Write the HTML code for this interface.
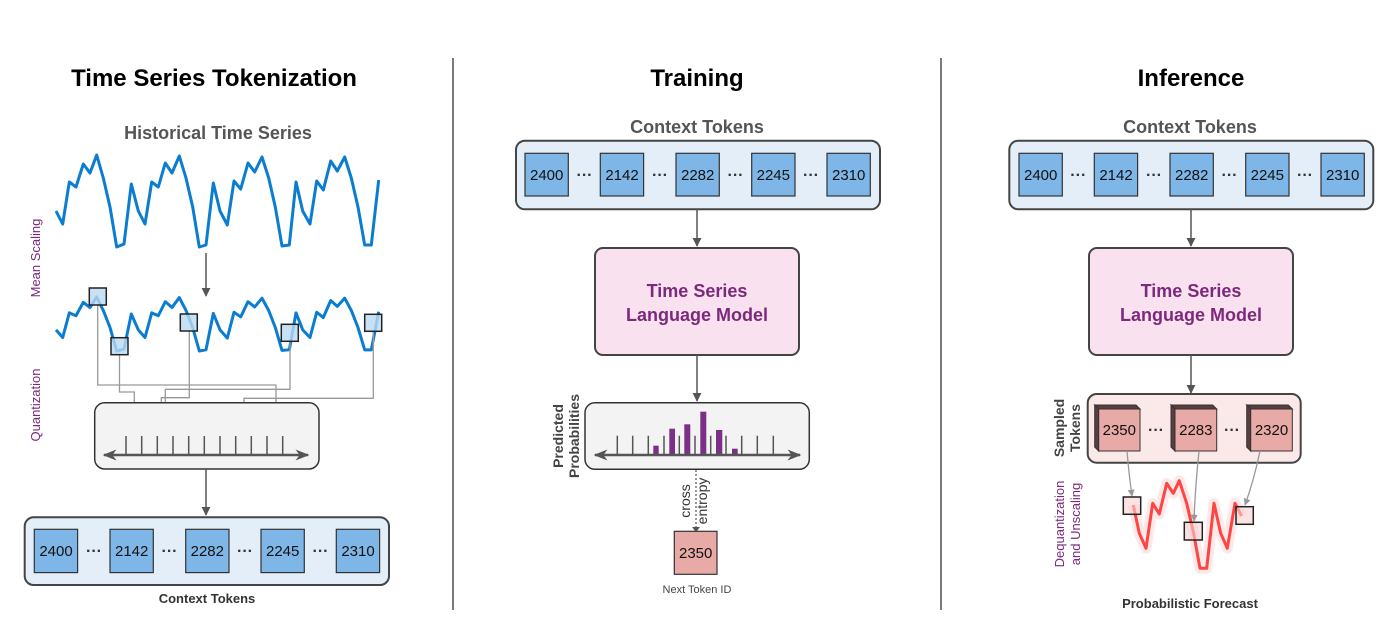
<!DOCTYPE html>
<html><head><meta charset="utf-8"><style>
html,body{margin:0;padding:0;background:#fff;}
svg{display:block;font-family:"Liberation Sans",Arial,sans-serif;}
.tk{fill:#7eb6e8;stroke:#333;stroke-width:1.2}
.tt{font-size:15px;fill:#111;text-anchor:middle}
.dots{font-size:16px;font-weight:bold;fill:#333;text-anchor:middle}
.ttl{font-size:24px;font-weight:bold;fill:#000;text-anchor:middle}
.sub{font-size:18px;font-weight:bold;fill:#555;text-anchor:middle}
.pur{font-size:13px;fill:#7b2a7b;text-anchor:middle}
.gry{font-size:13px;fill:#333;text-anchor:middle}
.ts{fill:none;stroke:#0a7dd0;stroke-width:3;stroke-linejoin:round}
.sq{fill:#bcd9f3;fill-opacity:.8;stroke:#222;stroke-width:1.5}
.cn{fill:none;stroke:#999;stroke-width:1.3}
</style></head><body>
<svg width="1400" height="632" viewBox="0 0 1400 632">
<defs>
<marker id="ad" viewBox="0 0 10 10" refX="9" refY="5" markerWidth="9" markerHeight="9" orient="auto" markerUnits="userSpaceOnUse"><path d="M0,0 L10,5 L0,10z" fill="#555"/></marker>
<marker id="ag" viewBox="0 0 10 10" refX="9" refY="5" markerWidth="7" markerHeight="7" orient="auto" markerUnits="userSpaceOnUse"><path d="M0,0 L10,5 L0,10z" fill="#999"/></marker>
<marker id="ax" viewBox="0 0 10 10" refX="9" refY="5" markerWidth="14" markerHeight="14" orient="auto-start-reverse" markerUnits="userSpaceOnUse"><path d="M0,1 L10,5 L0,9 L3,5z" fill="#555"/></marker>
</defs>

<line x1="453" y1="58" x2="453" y2="610" stroke="#222" stroke-width="1.2"/>
<line x1="941" y1="58" x2="941" y2="610" stroke="#222" stroke-width="1.2"/>

<!-- LEFT -->
<text x="214" y="86" class="ttl">Time Series Tokenization</text>
<text x="218" y="139" class="sub">Historical Time Series</text>
<text transform="translate(40,258) rotate(-90)" class="pur">Mean Scaling</text>
<text transform="translate(40,405) rotate(-90)" class="pur">Quantization</text>

<polyline class="ts" points="56,211 62.7,224 69.3,182 76,187 83.3,164 90,173 96.7,155 103.3,178 110,207 116.7,247 124,244 131.3,184 138.3,211 145,224 151.7,182 158.3,187 165.3,163 172,173 179.3,156 186,178 192.7,207 199.3,247 206,245 213.3,183 220,211 227.3,225 234,181 240.7,189 248,163 254.7,172 262,157 268.7,178 275.3,207 282,246 289.3,245 296,182 302.7,211 310,224 316.7,181 323.3,190 330.7,161 337.3,171 344.7,157 351.3,178 358,207 364.7,245 371.3,245 378.7,180"/>
<g transform="translate(0,206) scale(1,0.587)">
<polyline class="ts" vector-effect="non-scaling-stroke" points="56,211 62.7,224 69.3,182 76,187 83.3,164 90,173 96.7,155 103.3,178 110,207 116.7,247 124,244 131.3,184 138.3,211 145,224 151.7,182 158.3,187 165.3,163 172,173 179.3,156 186,178 192.7,207 199.3,247 206,245 213.3,183 220,211 227.3,225 234,181 240.7,189 248,163 254.7,172 262,157 268.7,178 275.3,207 282,246 289.3,245 296,182 302.7,211 310,224 316.7,181 323.3,190 330.7,161 337.3,171 344.7,157 351.3,178 358,207 364.7,245 371.3,245 378.7,180"/>
</g>
<line x1="206" y1="253" x2="206" y2="296" stroke="#555" stroke-width="1.5" marker-end="url(#ad)"/>

<polyline class="cn" points="97.7,305 97.7,385 276,385 276,451" marker-end="url(#ag)"/>
<polyline class="cn" points="119.5,354 119.5,392 134.3,392 134.3,451" marker-end="url(#ag)"/>
<polyline class="cn" points="189.3,331 189.3,397.7 161.3,397.7 161.3,451" marker-end="url(#ag)"/>
<polyline class="cn" points="290,341 290,389.3 165.3,389.3 165.3,451" marker-end="url(#ag)"/>
<polyline class="cn" points="373.3,331 373.3,398.3 244,398.3 244,451" marker-end="url(#ag)"/>
<rect class="sq" x="89.3" y="288" width="17" height="17"/>
<rect class="sq" x="111" y="337.7" width="17" height="17"/>
<rect class="sq" x="180.3" y="314" width="17" height="17"/>
<rect class="sq" x="281.3" y="324.3" width="17" height="17"/>
<rect class="sq" x="364.7" y="314.3" width="17" height="17"/>

<rect x="94.7" y="402.7" width="224.3" height="66.3" rx="10" fill="#f3f3f3" stroke="#333" stroke-width="1.5"/>
<line x1="104" y1="455" x2="308" y2="455" stroke="#555" stroke-width="2.5" marker-start="url(#ax)" marker-end="url(#ax)"/>
<path d="M126,436V455M141.7,436V455M157.3,436V455M173,436V455M188.7,436V455M204.3,436V455M220,436V455M235.7,436V455M251.3,436V455M267,436V455M282.7,436V455" stroke="#555" stroke-width="1.5"/>
<line x1="206" y1="469" x2="206" y2="515" stroke="#555" stroke-width="1.5" marker-end="url(#ad)"/>

<rect x="24.7" y="517.3" width="364.3" height="67.7" rx="9" fill="#e3eef8" stroke="#444" stroke-width="2"/>
<rect class="tk" x="34.3" y="529.3" width="43.3" height="43.3"/><text class="tt" x="56" y="556">2400</text>
<text class="dots" x="94" y="556">···</text>
<rect class="tk" x="110" y="529.3" width="43.3" height="43.3"/><text class="tt" x="131.7" y="556">2142</text>
<text class="dots" x="169.5" y="556">···</text>
<rect class="tk" x="185.7" y="529.3" width="43.3" height="43.3"/><text class="tt" x="207.3" y="556">2282</text>
<text class="dots" x="245" y="556">···</text>
<rect class="tk" x="261" y="529.3" width="43.3" height="43.3"/><text class="tt" x="282.7" y="556">2245</text>
<text class="dots" x="320.5" y="556">···</text>
<rect class="tk" x="336.3" y="529.3" width="43.3" height="43.3"/><text class="tt" x="358" y="556">2310</text>
<text x="207" y="603" class="gry" font-weight="bold">Context Tokens</text>

<!-- MIDDLE -->
<text x="697" y="86" class="ttl">Training</text>
<text x="697" y="133" class="sub">Context Tokens</text>
<rect x="516" y="140.7" width="364" height="68.6" rx="9" fill="#e3eef8" stroke="#444" stroke-width="2"/>
<rect class="tk" x="525" y="153.3" width="43.3" height="42.7"/><text class="tt" x="546.7" y="180">2400</text>
<text class="dots" x="584.5" y="180">···</text>
<rect class="tk" x="600.3" y="153.3" width="43.3" height="42.7"/><text class="tt" x="622" y="180">2142</text>
<text class="dots" x="660" y="180">···</text>
<rect class="tk" x="676" y="153.3" width="43.3" height="42.7"/><text class="tt" x="697.7" y="180">2282</text>
<text class="dots" x="735.5" y="180">···</text>
<rect class="tk" x="751.7" y="153.3" width="43.3" height="42.7"/><text class="tt" x="773.3" y="180">2245</text>
<text class="dots" x="811" y="180">···</text>
<rect class="tk" x="827" y="153.3" width="43.3" height="42.7"/><text class="tt" x="848.7" y="180">2310</text>
<line x1="697" y1="209" x2="697" y2="246" stroke="#555" stroke-width="1.5" marker-end="url(#ad)"/>
<rect x="595" y="248" width="204" height="107" rx="8" fill="#f9e1ef" stroke="#444" stroke-width="2"/>
<text x="697" y="297" font-size="18" font-weight="bold" fill="#7b2a7b" text-anchor="middle">Time Series</text>
<text x="697" y="321" font-size="18" font-weight="bold" fill="#7b2a7b" text-anchor="middle">Language Model</text>
<line x1="697" y1="355" x2="697" y2="401" stroke="#555" stroke-width="1.5" marker-end="url(#ad)"/>
<rect x="585" y="402.7" width="224.3" height="66.6" rx="10" fill="#f3f3f3" stroke="#333" stroke-width="1.5"/>
<g fill="#7b2f86">
<rect x="653.3" y="445.7" width="5.4" height="9.3"/>
<rect x="669.3" y="428.7" width="5.7" height="26.3"/>
<rect x="684.3" y="424.3" width="6" height="30.7"/>
<rect x="700.3" y="411.7" width="6" height="43.3"/>
<rect x="716" y="430" width="6.3" height="25"/>
<rect x="732" y="448.7" width="5.7" height="6.3"/>
</g>
<path d="M617.3,435.7V455M632.7,435.7V455M648.3,435.7V455M664,435.7V455M679.3,435.7V455M695,435.7V455M710.7,435.7V455M726,435.7V455M741.7,435.7V455M757.3,435.7V455M773.3,435.7V455" stroke="#555" stroke-width="1.5"/>
<line x1="595" y1="455" x2="800" y2="455" stroke="#555" stroke-width="2.5" marker-start="url(#ax)" marker-end="url(#ax)"/>
<text transform="translate(563,436) rotate(-90)" font-size="14" font-weight="bold" fill="#444" text-anchor="middle">Predicted</text>
<text transform="translate(579,436) rotate(-90)" font-size="14" font-weight="bold" fill="#444" text-anchor="middle">Probabilities</text>
<line x1="696" y1="470" x2="696" y2="530" stroke="#555" stroke-width="1.2" stroke-dasharray="2,2"/>
<path d="M692,527 L696,532 L700,527" fill="#555"/>
<text transform="translate(690,501) rotate(-90)" font-size="14" fill="#333" text-anchor="middle">cross</text>
<text transform="translate(707,501) rotate(-90)" font-size="14" fill="#333" text-anchor="middle">entropy</text>
<rect x="674.3" y="531.3" width="42.7" height="43" fill="#e8aaa6" stroke="#333" stroke-width="1.2"/>
<text class="tt" x="695.7" y="558">2350</text>
<text x="697" y="593" font-size="11" fill="#444" text-anchor="middle">Next Token ID</text>

<!-- RIGHT -->
<text x="1191" y="86" class="ttl">Inference</text>
<text x="1190" y="133" class="sub">Context Tokens</text>
<rect x="1009.3" y="140.7" width="364" height="68.6" rx="9" fill="#e3eef8" stroke="#444" stroke-width="2"/>
<rect class="tk" x="1019" y="153.3" width="43.3" height="42.7"/><text class="tt" x="1040.7" y="180">2400</text>
<text class="dots" x="1078.3" y="180">···</text>
<rect class="tk" x="1094.3" y="153.3" width="43.3" height="42.7"/><text class="tt" x="1116" y="180">2142</text>
<text class="dots" x="1154" y="180">···</text>
<rect class="tk" x="1170" y="153.3" width="43.3" height="42.7"/><text class="tt" x="1191.7" y="180">2282</text>
<text class="dots" x="1229.5" y="180">···</text>
<rect class="tk" x="1245.7" y="153.3" width="43.3" height="42.7"/><text class="tt" x="1267.3" y="180">2245</text>
<text class="dots" x="1305" y="180">···</text>
<rect class="tk" x="1321" y="153.3" width="43.3" height="42.7"/><text class="tt" x="1342.7" y="180">2310</text>
<line x1="1191" y1="209" x2="1191" y2="246" stroke="#555" stroke-width="1.5" marker-end="url(#ad)"/>
<rect x="1089" y="248" width="204" height="107" rx="8" fill="#f9e1ef" stroke="#444" stroke-width="2"/>
<text x="1191" y="297" font-size="18" font-weight="bold" fill="#7b2a7b" text-anchor="middle">Time Series</text>
<text x="1191" y="321" font-size="18" font-weight="bold" fill="#7b2a7b" text-anchor="middle">Language Model</text>
<line x1="1191" y1="355" x2="1191" y2="393" stroke="#555" stroke-width="1.5" marker-end="url(#ad)"/>
<rect x="1087.7" y="394" width="213" height="68.7" rx="9" fill="#fbe9ea" stroke="#444" stroke-width="2"/>
<g stroke="#333" stroke-width="1">
<path d="M1098.7,409 l-4,-4 h41.3 l4,4z M1098.7,409 l-4,-4 v42 l4,4z" fill="#5a3e3e"/>
<rect x="1098.7" y="409" width="41.3" height="42" fill="#e8aaa6"/>
<path d="M1175,409 l-4,-4 h41.7 l4,4z M1175,409 l-4,-4 v42 l4,4z" fill="#5a3e3e"/>
<rect x="1175" y="409" width="41.7" height="42" fill="#e8aaa6"/>
<path d="M1250.7,409 l-4,-4 h41.6 l4,4z M1250.7,409 l-4,-4 v42 l4,4z" fill="#5a3e3e"/>
<rect x="1250.7" y="409" width="41.6" height="42" fill="#e8aaa6"/>
</g>
<text class="tt" x="1119.3" y="435">2350</text>
<text class="dots" x="1156" y="435">···</text>
<text class="tt" x="1195.8" y="435">2283</text>
<text class="dots" x="1232" y="435">···</text>
<text class="tt" x="1271.5" y="435">2320</text>
<text transform="translate(1064,428) rotate(-90)" font-size="14" font-weight="bold" fill="#444" text-anchor="middle">Sampled</text>
<text transform="translate(1080,428) rotate(-90)" font-size="14" font-weight="bold" fill="#444" text-anchor="middle">Tokens</text>
<text transform="translate(1064,524) rotate(-90)" font-size="13" fill="#7b2a7b" text-anchor="middle">Dequantization</text>
<text transform="translate(1080,524) rotate(-90)" font-size="13" fill="#7b2a7b" text-anchor="middle">and Unscaling</text>
<polyline fill="none" stroke="#fde0e0" stroke-width="11" stroke-linejoin="round" opacity=".7" points="1133.3,505 1139.3,533.3 1146,548.3 1152.7,503.3 1159.3,514 1166.7,483.3 1173.3,493.3 1179.3,480.7 1186.7,503.3 1193.3,531.7 1200,568.3 1206.7,568.3 1214,503.3 1220.7,533.3 1227.3,548.3 1235,503.3 1241.7,516"/>
<polyline fill="none" stroke="#f44" stroke-width="3" stroke-linejoin="round" points="1133.3,505 1139.3,533.3 1146,548.3 1152.7,503.3 1159.3,514 1166.7,483.3 1173.3,493.3 1179.3,480.7 1186.7,503.3 1193.3,531.7 1200,568.3 1206.7,568.3 1214,503.3 1220.7,533.3 1227.3,548.3 1235,503.3 1241.7,516"/>
<path d="M1127,451 Q1129,475 1132,496" class="cn" marker-end="url(#ag)"/>
<path d="M1199,451 Q1195,490 1194,521" class="cn" marker-end="url(#ag)"/>
<path d="M1260,451 Q1254,480 1245,505" class="cn" marker-end="url(#ag)"/>
<rect x="1123.3" y="497" width="17.4" height="17.3" fill="#f6d0d0" fill-opacity=".6" stroke="#222" stroke-width="1.5"/>
<rect x="1184.3" y="522.3" width="18" height="17.7" fill="#f6d0d0" fill-opacity=".6" stroke="#222" stroke-width="1.5"/>
<rect x="1236" y="506.7" width="17.3" height="17.6" fill="#f6d0d0" fill-opacity=".6" stroke="#222" stroke-width="1.5"/>
<text x="1190" y="608" class="gry" font-weight="bold">Probabilistic Forecast</text>
</svg>
</body></html>
